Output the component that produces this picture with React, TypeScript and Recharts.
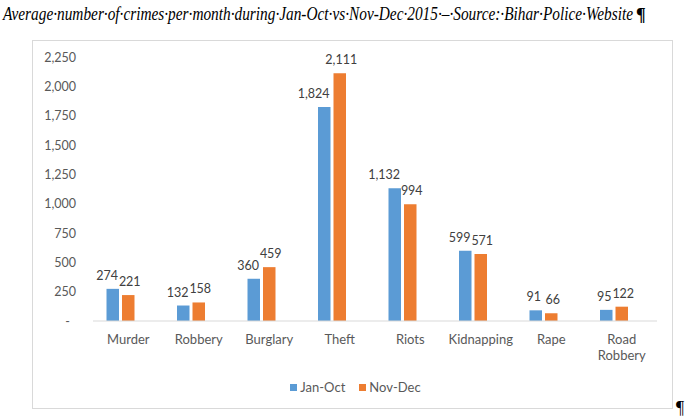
import React from "react";
import { BarChart, Bar, XAxis, YAxis, LabelList, Legend } from "recharts";

const categories = ["Murder", "Robbery", "Burglary", "Theft", "Riots", "Kidnapping", "Rape", "Road Robbery"];
const janOct = [274, 132, 360, 1824, 1132, 599, 91, 95];
const novDec = [221, 158, 459, 2111, 994, 571, 66, 122];
const yTicks = [0, 250, 500, 750, 1000, 1250, 1500, 1750, 2000, 2250];
const seriesNames = ["Jan-Oct", "Nov-Dec"];
const titleText =
  "Average\u00B7number\u00B7of\u00B7crimes\u00B7per\u00B7month\u00B7during\u00B7Jan-Oct\u00B7vs\u00B7Nov-Dec\u00B72015\u00B7\u2013\u00B7Source:\u00B7Bihar\u00B7Police\u00B7Website";

const data = categories.map((c, i) => ({ name: c, janOct: janOct[i], novDec: novDec[i] }));

const FONT = "Lato, 'Noto Sans', sans-serif";
const BLUE = "#5B9BD5";
const ORANGE = "#ED7D31";

const fmt = (v: any) => Number(v).toLocaleString("en-US");

const YTick = (props: any) => {
  const { x, y, payload } = props;
  const v = payload.value;
  return (
    <text x={v === 0 ? x - 6 : x} y={y} dy={4.5} textAnchor="end" fill="#595959" fontSize={12.5} fontFamily={FONT}>
      {v === 0 ? "-" : fmt(v)}
    </text>
  );
};

const XTick = (props: any) => {
  const { x, y, payload } = props;
  const words = String(payload.value).split(" ");
  return (
    <text x={x} y={y} textAnchor="middle" fill="#595959" fontSize={13} fontFamily={FONT}>
      {words.map((w, i) => (
        <tspan key={i} x={x} dy={i === 0 ? 23 : 16}>
          {w}
        </tspan>
      ))}
    </text>
  );
};

const makeLabel = (side: "left" | "right") => (props: any) => {
  const { x, y, width, value } = props;
  const tx = side === "left" ? x + width - 1 : x + width / 2 + 1.5;
  return (
    <text
      x={tx}
      y={y - 9}
      textAnchor={side === "left" ? "end" : "middle"}
      fill="#404040"
      fontSize={12.5}
      fontFamily={FONT}
    >
      {fmt(value)}
    </text>
  );
};

const LegendContent = () => (
  <div
    style={{
      display: "flex",
      justifyContent: "center",
      alignItems: "center",
      fontFamily: FONT,
      fontSize: 13,
      color: "#595959",
      height: 18,
      paddingLeft: 6,
    }}
  >
    {seriesNames.map((n, i) => (
      <div key={n} style={{ display: "flex", alignItems: "center", marginRight: i === 0 ? 14 : 0 }}>
        <span style={{ width: 7, height: 7, background: i === 0 ? BLUE : ORANGE, marginRight: 3, display: "inline-block" }} />
        <span>{n}</span>
      </div>
    ))}
  </div>
);

export default function App() {
  return (
    <div style={{ position: "absolute", left: 0, top: 0, width: 690, height: 417, background: "#fff", overflow: "hidden" }}>
      <svg width={690} height={417} style={{ position: "absolute", left: 0, top: 0 }}>
        <text
          x={3}
          y={20}
          fontFamily="'Liberation Serif', serif"
          fontStyle="italic"
          fontSize={19}
          fill="#000"
          textLength={630}
          lengthAdjust="spacingAndGlyphs"
        >
          {titleText}
        </text>
        <text x={636} y={21} fontFamily="'Liberation Serif', serif" fontSize={18} fontWeight="bold" fill="#000">
          ¶
        </text>
        <text x={676} y={414} fontFamily="'Liberation Serif', serif" fontSize={18} fill="#000">
          ¶
        </text>
      </svg>
      <div
        style={{
          position: "absolute",
          left: 32,
          top: 40,
          width: 641,
          height: 369,
          border: "1px solid #d9d9d9",
          boxSizing: "border-box",
        }}
      />
      <div style={{ position: "absolute", left: 32, top: 40, width: 641, height: 369 }}>
        <BarChart
          width={641}
          height={369}
          data={data}
          margin={{ top: 17, right: 16, left: 0, bottom: 32 }}
          barSize={12.5}
          barGap={3}
        >
          <XAxis
            xAxisId="vis"
            dataKey="name"
            axisLine={{ stroke: "#d9d9d9" }}
            tickLine={false}
            tickSize={0}
            tickMargin={0}
            tick={<XTick />}
            interval={0}
            height={56}
          />
          <XAxis xAxisId="bars" dataKey="name" hide height={0} padding={{ left: -7.5, right: 7.5 }} />
          <YAxis
            domain={[0, 2250]}
            ticks={yTicks}
            axisLine={false}
            tickLine={false}
            tickSize={0}
            tickMargin={17}
            width={61}
            tick={<YTick />}
            interval={0}
          />
          <Legend
            verticalAlign="middle"
            align="center"
            layout="horizontal"
            content={<LegendContent />}
            wrapperStyle={{ top: 338, left: 0, width: 641, height: 18 }}
          />
          <Bar xAxisId="bars" dataKey="janOct" name={seriesNames[0]} fill={BLUE} isAnimationActive={false}>
            <LabelList dataKey="janOct" content={makeLabel("left")} />
          </Bar>
          <Bar xAxisId="bars" dataKey="novDec" name={seriesNames[1]} fill={ORANGE} isAnimationActive={false}>
            <LabelList dataKey="novDec" content={makeLabel("right")} />
          </Bar>
        </BarChart>
      </div>
    </div>
  );
}
